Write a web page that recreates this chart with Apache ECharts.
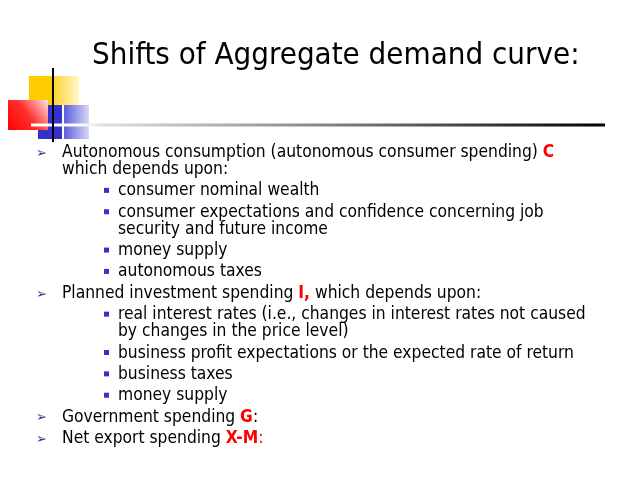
<!DOCTYPE html>
<html>
<head>
<meta charset="utf-8">
<script src="https://cdn.jsdelivr.net/npm/echarts@6/dist/echarts.min.js"></script>
<style>
html,body{margin:0;padding:0;background:#fff;}
#c{width:638px;height:478px;}
</style>
</head>
<body>
<div id="c"></div>
<script>
// ---- content ----
const titleText = 'Shifts of Aggregate demand curve:';
const itemLevels = [1, 2, 2, 2, 2, 1, 2, 2, 2, 2, 1, 1];
const itemTexts = [
  'Autonomous consumption (autonomous consumer spending) {r|C}\nwhich depends upon:',
  'consumer nominal wealth',
  'consumer expectations and confidence concerning job\nsecurity and future income',
  'money supply',
  'autonomous taxes',
  'Planned investment spending {r|I,} which depends upon:',
  'real interest rates (i.e., changes in interest rates not caused\nby changes in the price level)',
  'business profit expectations or the expected rate of return',
  'business taxes',
  'money supply',
  'Government spending {r|G}:',
  'Net export spending {r|X-M}{rr|:}'
];

// ---- layout / style ----
const FONT = '"DejaVu Sans Condensed", "DejaVu Sans", sans-serif';
const BODY_SIZE = 17.3;
const LINE_H = 17;
const ITEM_GAP = 21.36;
const FIRST_CENTER = 152.5;
const L1_BULLET_X = 37, L1_TEXT_X = 62;
const L2_BULLET_X = 104, L2_TEXT_X = 118;

const chart = echarts.init(document.getElementById('c'), null, {renderer: 'canvas'});

const elements = [];

// decorative block
elements.push({
  type: 'rect', shape: {x: 29, y: 76, width: 50, height: 29},
  style: {fill: new echarts.graphic.LinearGradient(0, 0, 1, 0, [
    {offset: 0, color: '#ffcc00'}, {offset: 0.48, color: '#ffcc00'},
    {offset: 0.5, color: '#ffd633'}, {offset: 1, color: '#fff6cc'}])}
});
elements.push({
  type: 'rect', shape: {x: 38, y: 105, width: 51, height: 34},
  style: {fill: new echarts.graphic.LinearGradient(0, 0, 1, 0, [
    {offset: 0, color: '#3333cc'}, {offset: 0.48, color: '#3333cc'},
    {offset: 0.5, color: '#5b5bdb'}, {offset: 1, color: '#d8d8f8'}])}
});
elements.push({
  type: 'rect', shape: {x: 62, y: 105, width: 2, height: 34},
  style: {fill: '#ffffff'}
});
elements.push({
  type: 'rect', shape: {x: 8, y: 100, width: 40, height: 30},
  style: {fill: new echarts.graphic.LinearGradient(0, 1, 1, 0, [
    {offset: 0, color: '#ff0000'}, {offset: 0.5, color: '#ff3030'},
    {offset: 1, color: '#ffe0e0'}])}
});
elements.push({
  type: 'rect', shape: {x: 31, y: 123.5, width: 574, height: 3},
  style: {fill: new echarts.graphic.LinearGradient(0, 0, 1, 0, [
    {offset: 0, color: '#ffffff'}, {offset: 0.08, color: '#ffffff'},
    {offset: 0.13, color: '#dddddd'}, {offset: 0.5, color: '#888888'},
    {offset: 1, color: '#000000'}])}
});
elements.push({
  type: 'rect', shape: {x: 52, y: 68, width: 2, height: 74},
  style: {fill: '#000000'}
});

// title
elements.push({
  type: 'text', x: 92, y: 56,
  style: {text: titleText, font: '31px "DejaVu Sans Condensed", "DejaVu Sans", sans-serif',
    fill: '#000', textVerticalAlign: 'middle', textAlign: 'left'}
});

// body
let center = FIRST_CENTER;
itemTexts.forEach((t, i) => {
  const lvl = itemLevels[i];
  const nLines = t.split('\n').length;
  const top = center - LINE_H / 2;
  if (lvl === 1) {
    elements.push({
      type: 'text', x: L1_BULLET_X - 1, y: center + 1,
      style: {text: '➢', fontSize: 13, fontFamily: 'DejaVu Sans', fill: '#2e2e8a',
        textVerticalAlign: 'middle'}
    });
  } else {
    elements.push({
      type: 'rect', shape: {x: L2_BULLET_X, y: center - 3, width: 5, height: 5},
      style: {fill: '#3333cc'}
    });
  }
  elements.push({
    type: 'text', x: lvl === 1 ? L1_TEXT_X : L2_TEXT_X, y: top,
    style: {
      text: t, fontSize: BODY_SIZE, fontFamily: FONT, fill: '#000',
      lineHeight: LINE_H, textVerticalAlign: 'top', textAlign: 'left',
      rich: {
        r: {fill: '#ff0000', fontWeight: 'bold', fontSize: BODY_SIZE, fontFamily: FONT, lineHeight: LINE_H},
        rr: {fill: '#ff0000', fontSize: BODY_SIZE, fontFamily: FONT, lineHeight: LINE_H}
      }
    }
  });
  center += (nLines - 1) * LINE_H + ITEM_GAP;
});

chart.setOption({
  backgroundColor: '#ffffff',
  animation: false,
  graphic: {elements: elements}
});
</script>
</body>
</html>
